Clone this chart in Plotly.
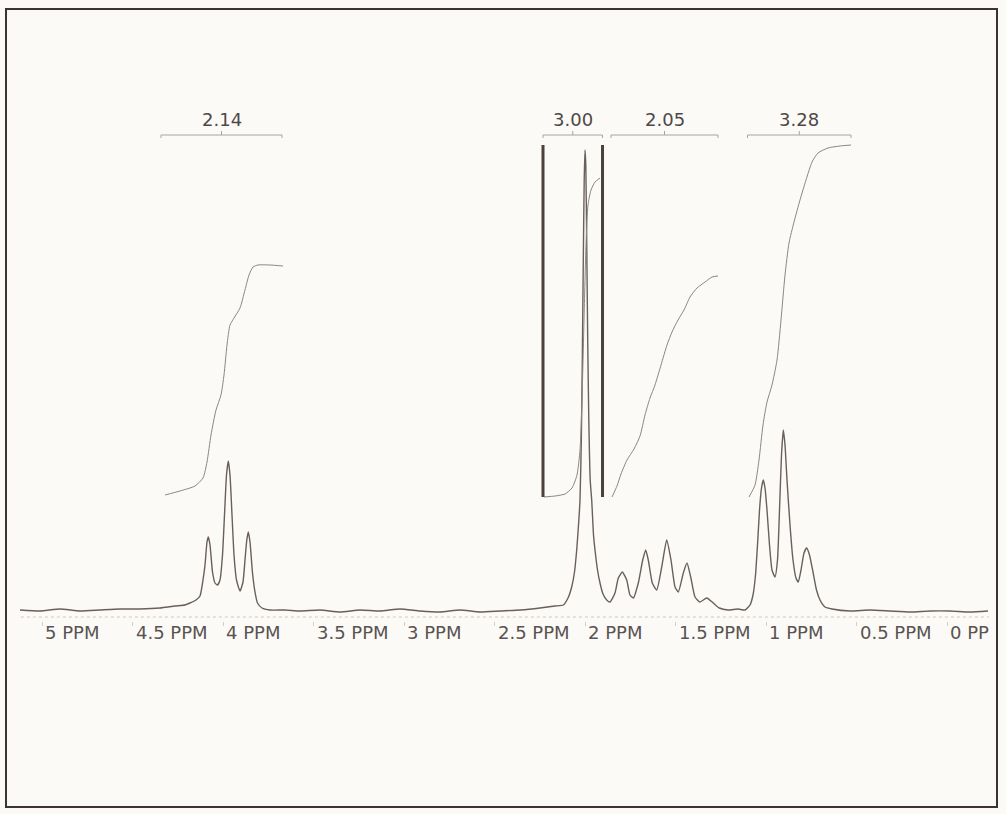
import plotly.graph_objects as go

# ---------------- data ----------------
ppm = [5.1215, 5.0110, 4.9006, 4.7901, 4.6796, 4.5691, 4.4586, 4.3481, 4.2652, 4.2099,
       4.1823, 4.1492, 4.1271, 4.1105, 4.0994, 4.0884, 4.0812, 4.0718, 4.0580, 4.0442,
       4.0304, 4.0166, 4.0028, 3.9917, 3.9807, 3.9707, 3.9613, 3.9503, 3.9392, 3.9254,
       3.9061, 3.8895, 3.8785, 3.8685, 3.8602, 3.8508, 3.8370, 3.8232, 3.8094, 3.7845,
       3.7403, 3.6575, 3.5746, 3.4641, 3.3536, 3.2431, 3.1326, 3.0221, 2.9116, 2.8011,
       2.6906, 2.5801, 2.4696, 2.3591, 2.2486, 2.1657, 2.1199, 2.0939, 2.0735, 2.0580,
       2.0459, 2.0359, 2.0276, 2.0204, 2.0149, 2.0094, 2.0044, 2.0000, 1.9956, 1.9906,
       1.9851, 1.9790, 1.9713, 1.9630, 1.9530, 1.9448, 1.9309, 1.9171, 1.9006, 1.8801,
       1.8619, 1.8343, 1.8160, 1.7939, 1.7696, 1.7514, 1.7331, 1.7055, 1.6812, 1.6646,
       1.6503, 1.6282, 1.6039, 1.5762, 1.5486, 1.5249, 1.5028, 1.4845, 1.4569, 1.4365,
       1.4160, 1.3923, 1.3646, 1.3276, 1.2912, 1.2580, 1.2099, 1.1547, 1.1160, 1.0884,
       1.0718, 1.0580, 1.0470, 1.0359, 1.0249, 1.0149, 1.0055, 0.9945, 0.9807, 0.9669,
       0.9503, 0.9365, 0.9254, 0.9144, 0.9044, 0.8950, 0.8840, 0.8674, 0.8508, 0.8343,
       0.8215, 0.8066, 0.7901, 0.7751, 0.7597, 0.7403, 0.7210, 0.7017, 0.6740, 0.6354,
       0.5359, 0.4254, 0.3149, 0.2044, 0.0939, -0.0166, -0.1271, -0.2265]
intensity = [0.0, -0.1, 0.1, -0.1, 0.0, 0.1, 0.1, 0.2, 0.4, 0.5,
             0.7, 1.0, 1.4, 3.0, 4.5, 6.8, 7.3, 6.5, 3.8, 2.7,
             2.5, 3.0, 5.5, 9.5, 13.5, 14.9, 13.5, 9.5, 5.5, 3.0,
             1.9, 2.8, 5.0, 7.0, 7.8, 6.8, 3.7, 1.8, 0.7, 0.2,
             0.0, 0.0, -0.1, 0.0, -0.2, 0.0, -0.1, 0.1, -0.1, -0.2,
             0.0, -0.2, -0.1, 0.0, 0.2, 0.4, 0.5, 1.2, 2.3, 3.8,
             6.0, 8.5, 11.0, 17.0, 25.0, 35.0, 43.0, 46.0, 44.5, 37.0,
             27.0, 19.0, 13.0, 11.0, 7.5, 6.0, 4.0, 2.7, 1.6, 1.0,
             0.8, 1.7, 3.2, 3.8, 3.0, 1.5, 1.2, 2.7, 5.0, 6.0,
             5.0, 2.7, 2.0, 4.3, 7.0, 5.0, 2.3, 1.8, 3.7, 4.7,
             3.3, 1.3, 0.8, 1.2, 0.7, 0.2, 0.0, 0.1, 0.0, 0.5,
             1.5, 3.5, 6.5, 10.0, 12.2, 13.0, 12.2, 10.0, 6.5, 4.0,
             3.3, 5.0, 10.0, 15.5, 18.0, 16.5, 13.0, 8.5, 5.0, 3.2,
             2.8, 4.0, 5.7, 6.2, 5.5, 3.8, 2.0, 1.0, 0.3, 0.1,
             -0.1, 0.0, -0.1, -0.2, -0.1, -0.1, -0.2, -0.1]

# integral curves (drawn offset above the peaks)
int1_ppm = [4.3204, 4.2376, 4.1547, 4.1105, 4.0884, 4.0663, 4.0387, 4.0110, 3.9945, 3.9779,
            3.9613, 3.9392, 3.9061, 3.8785, 3.8564, 3.8343, 3.8066, 3.7403, 3.6685]
int1_val = [11.5, 11.9, 12.4, 13.2, 14.8, 17.5, 20.0, 21.5, 23.5, 26.5,
            28.5, 29.2, 30.2, 32.0, 33.5, 34.3, 34.5, 34.5, 34.4]
int2_ppm = [2.2265, 2.1657, 2.1105, 2.0718, 2.0442, 2.0276, 2.0166, 2.0055, 1.9945, 1.9834,
            1.9669, 1.9448, 1.9171]
int2_val = [11.3, 11.4, 11.6, 12.2, 13.5, 16.0, 21.0, 29.0, 36.5, 40.5,
            42.0, 42.8, 43.2]
int3_ppm = [1.8508, 1.8232, 1.8011, 1.7680, 1.7293, 1.6961, 1.6685, 1.6409, 1.6133, 1.5801,
            1.5470, 1.5193, 1.4862, 1.4530, 1.4199, 1.3812, 1.3370, 1.2983, 1.2652]
int3_val = [11.3, 12.4, 13.6, 15.0, 16.1, 17.4, 19.5, 21.2, 22.5, 24.5,
            26.5, 27.8, 29.0, 30.0, 31.3, 32.2, 32.8, 33.3, 33.4]
int4_ppm = [1.0939, 1.0608, 1.0387, 1.0166, 0.9945, 0.9669, 0.9392, 0.9171, 0.8950, 0.8729,
            0.8453, 0.8122, 0.7790, 0.7459, 0.7127, 0.6575, 0.5912, 0.5304]
int4_val = [11.3, 12.5, 15.0, 18.5, 20.8, 22.5, 25.0, 29.0, 33.5, 36.7,
            38.8, 41.0, 43.0, 44.8, 45.7, 46.2, 46.4, 46.5]

region_start = [4.3425, 2.2320, 1.8564, 1.1022]
region_end = [3.6740, 1.9033, 1.2652, 0.5304]
integral_labels = ["2.14", "3.00", "2.05", "3.28"]
boxed_region = 1  # the region drawn with vertical bars

tick_values = [5, 4.5, 4, 3.5, 3, 2.5, 2, 1.5, 1, 0.5, 0]
tick_labels = ["5 PPM", "4.5 PPM", "4 PPM", "3.5 PPM", "3 PPM", "2.5 PPM",
               "2 PPM", "1.5 PPM", "1 PPM", "0.5 PPM", "0 PP"]

# ---------------- styling ----------------
BG = "#fbfaf7"
LINE = "#6a5f5a"
INTEG = "#8e8580"
BRACKET = "#aaa49e"
TEXT = "#4f4846"
FONT = "DejaVu Sans"

fig = go.Figure()

fig.add_trace(go.Scatter(x=ppm, y=intensity, mode="lines",
                         line=dict(color=LINE, width=1.4, shape="spline", smoothing=0.5),
                         hoverinfo="skip"))
for xs, ys in [(int1_ppm, int1_val), (int2_ppm, int2_val),
               (int3_ppm, int3_val), (int4_ppm, int4_val)]:
    fig.add_trace(go.Scatter(x=xs, y=ys, mode="lines",
                             line=dict(color=INTEG, width=1, shape="spline", smoothing=0.6),
                             hoverinfo="skip"))

shapes = []
bracket_y = 47.5
for i, (a, b, lab) in enumerate(zip(region_start, region_end, integral_labels)):
    xc = (a + b) / 2
    shapes.append(dict(type="path", xref="x", yref="y",
                       path=f"M {a},{bracket_y-0.3} L {a},{bracket_y} L {b},{bracket_y} L {b},{bracket_y-0.3}",
                       line=dict(color=BRACKET, width=1)))
    shapes.append(dict(type="line", xref="x", yref="y", x0=xc, x1=xc,
                       y0=bracket_y, y1=bracket_y + 0.4,
                       line=dict(color=BRACKET, width=1)))
    fig.add_annotation(x=xc, y=bracket_y, xref="x", yref="y", text=lab,
                       showarrow=False, yanchor="bottom", yshift=3,
                       font=dict(family=FONT, size=18, color=TEXT))
    if i == boxed_region:
        for xv in (a, b):
            shapes.append(dict(type="line", xref="x", yref="y", x0=xv, x1=xv,
                               y0=11.3, y1=46.5, line=dict(color="#4a403c", width=3)))

# faint dotted axis line
shapes.append(dict(type="line", xref="paper", yref="y", x0=0.015, x1=0.992,
                   y0=-0.7, y1=-0.7, line=dict(color="#cfcac4", width=1, dash="dot")))
# frame
shapes.append(dict(type="rect", xref="paper", yref="paper", x0=0, x1=1, y0=0, y1=1,
                   line=dict(color="#3b3433", width=2)))

for v, t in zip(tick_values, tick_labels):
    fig.add_annotation(x=v, y=-2.2, xref="x", yref="y", text=t, showarrow=False,
                       xanchor="left", yanchor="middle", xshift=1,
                       font=dict(family=FONT, size=18, color="#5a5351"))

fig.update_layout(
    width=1006, height=814,
    margin=dict(l=6, r=9, t=9, b=7),
    paper_bgcolor=BG, plot_bgcolor=BG,
    showlegend=False,
    shapes=shapes,
    xaxis=dict(range=[5.1989, -0.2762], showgrid=False, zeroline=False,
               showline=False, anchor="free", position=0.233,
               tickvals=tick_values, showticklabels=False,
               ticks="outside", ticklen=4, tickcolor="#d3cec8"),
    yaxis=dict(range=[-19.7, 60.1], visible=False),
)

fig.write_html("out.html", config={"displayModeBar": False},
               post_script="document.body.style.margin='0px';document.body.style.background='%s';" % BG)
